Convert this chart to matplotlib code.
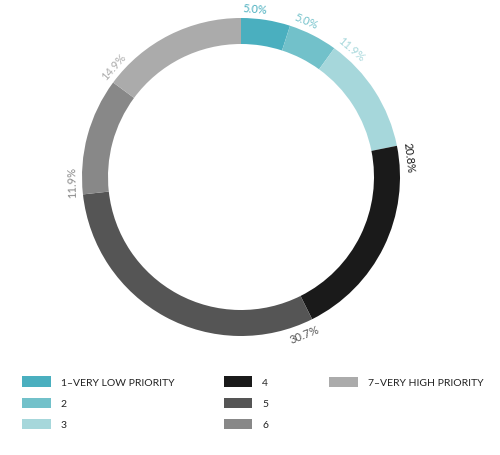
import matplotlib.pyplot as plt
import numpy as np

categories = ['1\u2013VERY LOW PRIORITY', '2', '3', '4', '5', '6', '7\u2013VERY HIGH PRIORITY']
shares = [5.0, 5.0, 11.9, 20.8, 30.7, 11.9, 14.9]
colors = ['#4aafbf', '#72c1ca', '#a6d7db', '#1a1a1a', '#555555', '#888888', '#ababab']

plt.rcParams['font.family'] = ['Lato', 'DejaVu Sans']

W, H = 500, 456
fig = plt.figure(figsize=(W / 100, H / 100), dpi=100)
ax = fig.add_axes([0, 0, 1, 1])

cx, cy = 241, H - 178
R, ring = 159, 26

wedges, _ = ax.pie(shares, colors=colors, startangle=90, counterclock=False,
                   radius=R, center=(cx, cy), frame=True,
                   wedgeprops=dict(width=ring, linewidth=0))

# labels sit just outside the ring, starting at each slice's leading edge
for w, val, col in zip(wedges, shares, colors):
    a = w.theta2 - 4.6
    rad = np.deg2rad(a)
    x = cx + (R + 10) * np.cos(rad)
    y = cy + (R + 10) * np.sin(rad)
    rot = a - 90 if np.sin(rad) >= -0.05 else a + 90
    ax.text(x, y, f'{val:.1f}%', color=col, fontsize=8, rotation=rot,
            rotation_mode='anchor', ha='center', va='center')

ax.set_xlim(0, W)
ax.set_ylim(0, H)
ax.set_aspect('equal')
ax.axis('off')

leg_kw = dict(loc='upper left', frameon=False, fontsize=7.5,
              handlelength=2.75, handleheight=1.15, handletextpad=0.95,
              labelspacing=1.0, borderpad=0, borderaxespad=0,
              labelcolor='#222222')
leg1 = ax.legend(wedges[:6], categories[:6], ncol=2, columnspacing=4.75,
                 bbox_to_anchor=(22 / W, (H - 377.5) / H), **leg_kw)
ax.add_artist(leg1)
ax.legend(wedges[6:], categories[6:], ncol=1,
          bbox_to_anchor=(329 / W, (H - 377.5) / H), **leg_kw)

fig.savefig('out.png', dpi=100)
